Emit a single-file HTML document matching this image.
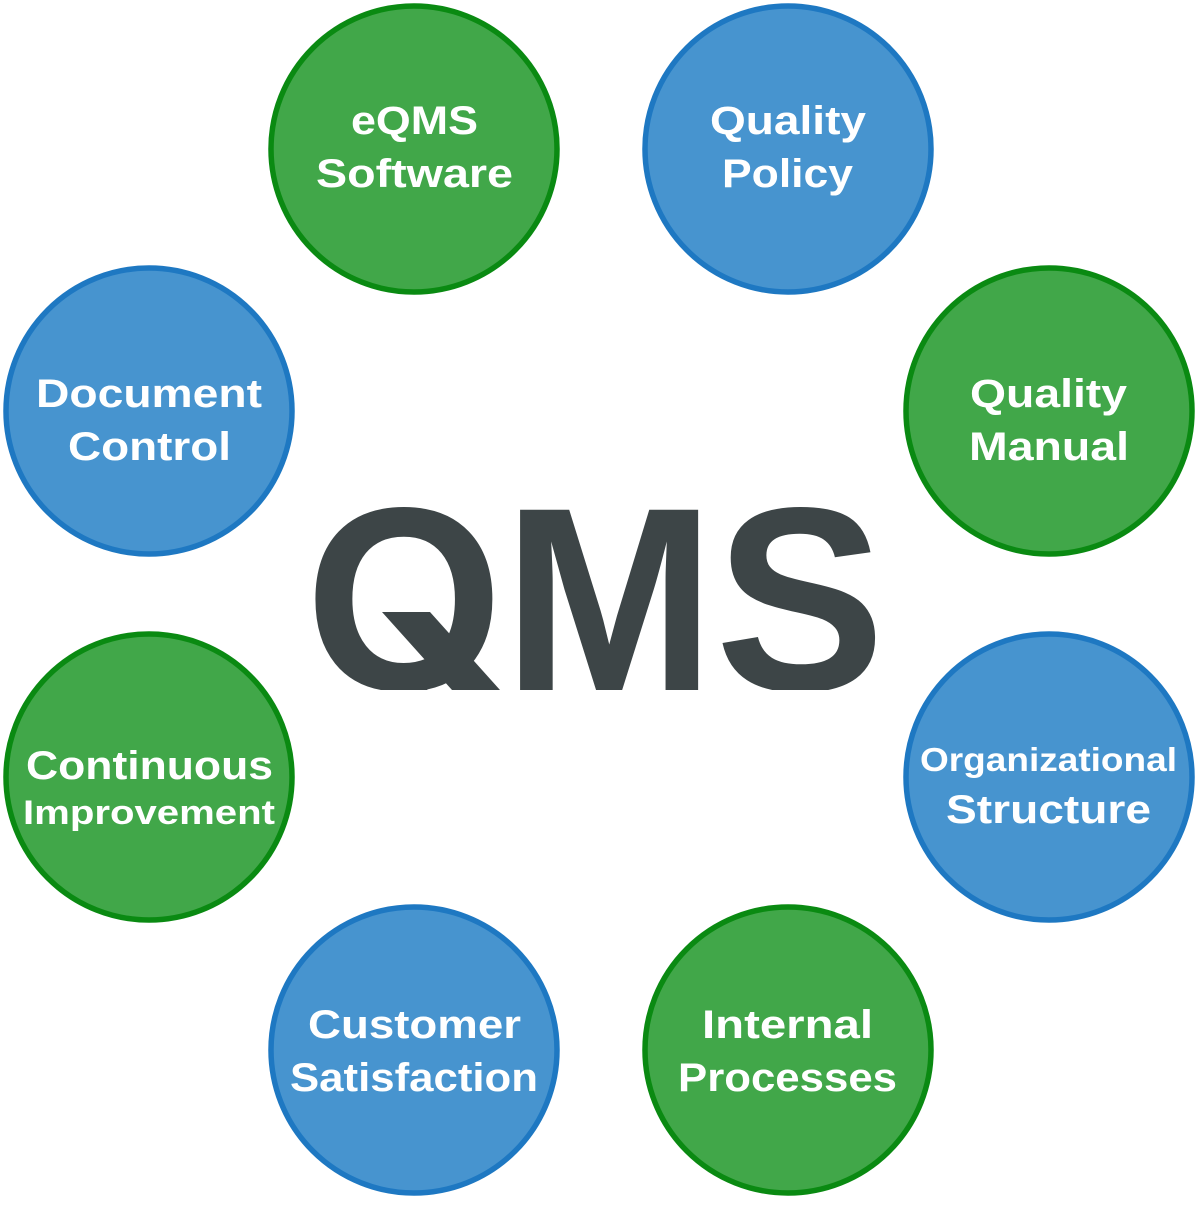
<!DOCTYPE html>
<html><head><style>html,body{margin:0;padding:0;background:#fff}</style></head><body>
<svg width="1199" height="1201" viewBox="0 0 1199 1201" xmlns="http://www.w3.org/2000/svg" font-family="Liberation Sans, sans-serif" font-weight="bold">
<defs><clipPath id="c"><rect x="0" y="0" width="1199" height="690"/></clipPath></defs>
<g stroke-width="5.5">
<circle cx="414" cy="149" r="143" fill="#41a749" stroke="#0a8a12"/>
<circle cx="788" cy="149" r="143" fill="#4794cf" stroke="#1e78c2"/>
<circle cx="149" cy="411" r="143" fill="#4794cf" stroke="#1e78c2"/>
<circle cx="1049" cy="411" r="143" fill="#41a749" stroke="#0a8a12"/>
<circle cx="149" cy="777" r="143" fill="#41a749" stroke="#0a8a12"/>
<circle cx="1049" cy="777" r="143" fill="#4794cf" stroke="#1e78c2"/>
<circle cx="414" cy="1050" r="143" fill="#4794cf" stroke="#1e78c2"/>
<circle cx="788" cy="1050" r="143" fill="#41a749" stroke="#0a8a12"/>
</g>
<g fill="#fff" font-size="40">
<text x="351" y="134" textLength="127" lengthAdjust="spacingAndGlyphs">eQMS</text>
<text x="316" y="187" textLength="197" lengthAdjust="spacingAndGlyphs">Software</text>
<text x="710" y="134" textLength="156" lengthAdjust="spacingAndGlyphs">Quality</text>
<text x="722" y="187" textLength="131" lengthAdjust="spacingAndGlyphs">Policy</text>
<text x="36" y="407" textLength="226" lengthAdjust="spacingAndGlyphs">Document</text>
<text x="68" y="460" textLength="163" lengthAdjust="spacingAndGlyphs">Control</text>
<text x="970" y="407" textLength="157" lengthAdjust="spacingAndGlyphs">Quality</text>
<text x="969" y="460" textLength="160" lengthAdjust="spacingAndGlyphs">Manual</text>
<text x="26" y="779" textLength="247" lengthAdjust="spacingAndGlyphs">Continuous</text>
<text x="23" y="824" font-size="34" textLength="252" lengthAdjust="spacingAndGlyphs">Improvement</text>
<text x="920" y="771" font-size="33" textLength="257" lengthAdjust="spacingAndGlyphs">Organizational</text>
<text x="946" y="823" textLength="205" lengthAdjust="spacingAndGlyphs">Structure</text>
<text x="308" y="1038" textLength="213" lengthAdjust="spacingAndGlyphs">Customer</text>
<text x="290" y="1091" textLength="248" lengthAdjust="spacingAndGlyphs">Satisfaction</text>
<text x="702" y="1038" textLength="171" lengthAdjust="spacingAndGlyphs">Internal</text>
<text x="678" y="1091" textLength="219" lengthAdjust="spacingAndGlyphs">Processes</text>
</g>
<text x="305" y="690" font-size="262" fill="#3d4547" textLength="580" lengthAdjust="spacingAndGlyphs" clip-path="url(#c)">QMS</text>
<polygon points="382,612 430,612 500,690 452,690" fill="#3d4547"/>
</svg>
</body></html>
